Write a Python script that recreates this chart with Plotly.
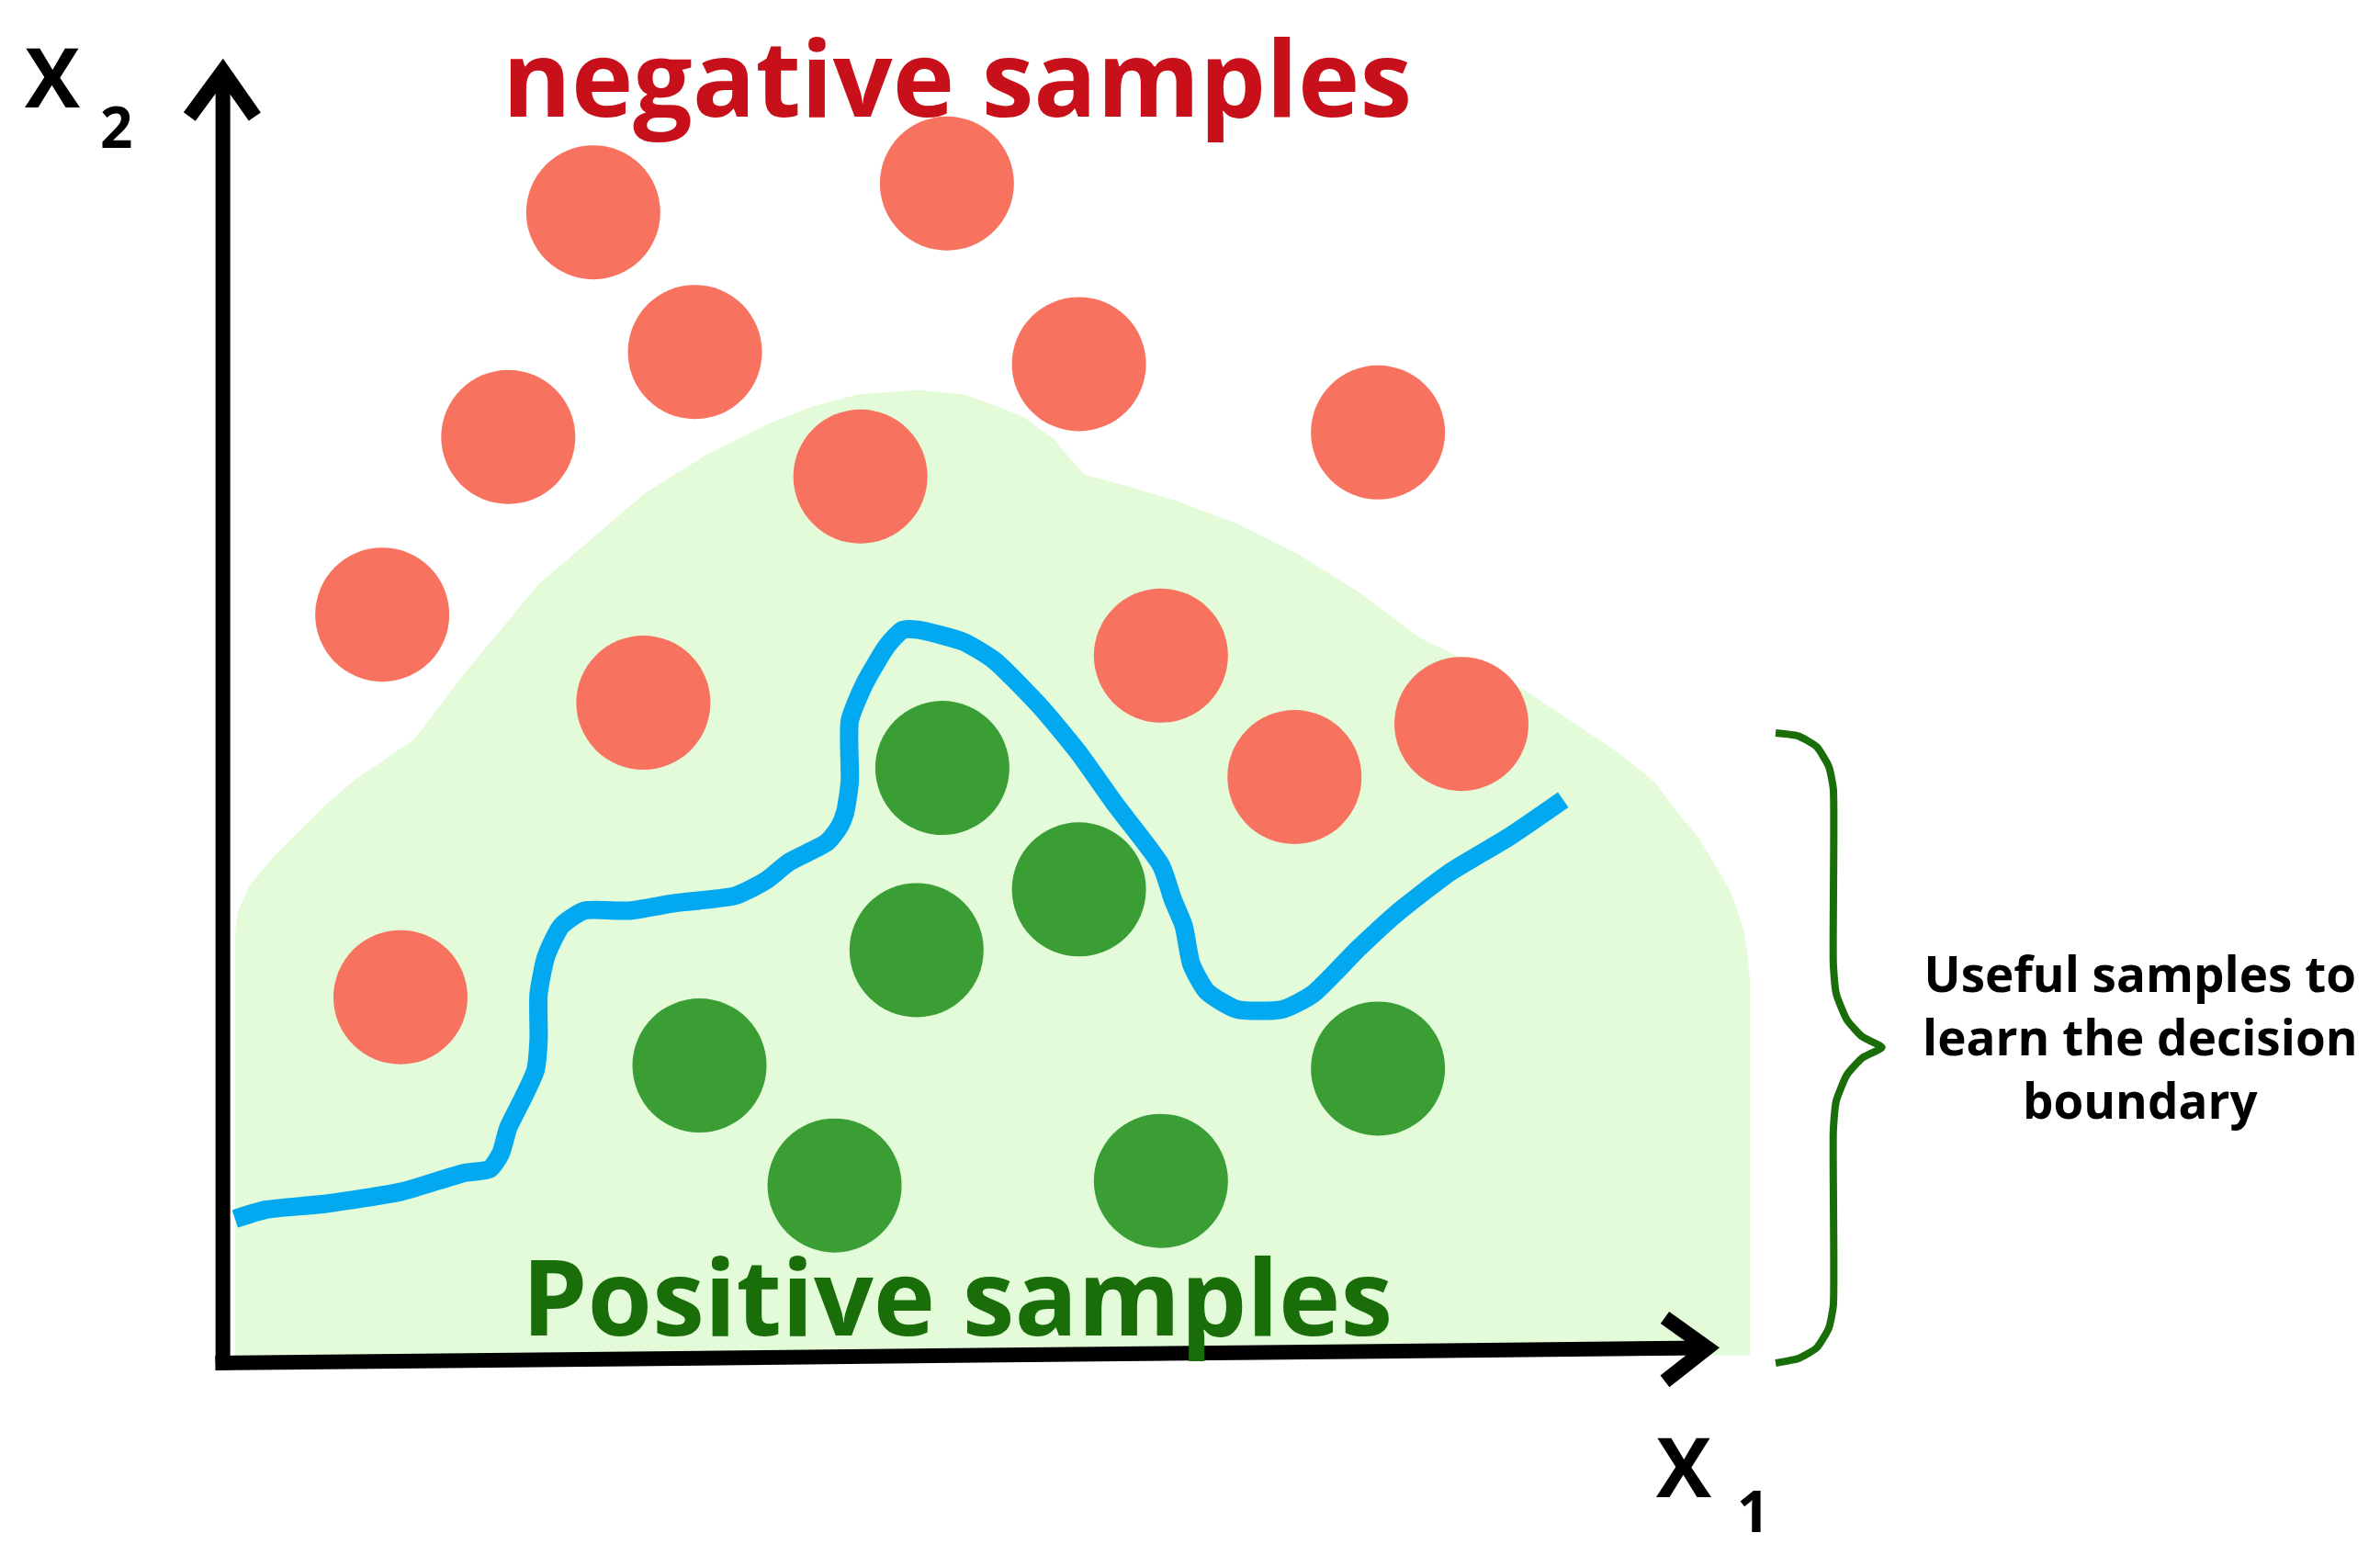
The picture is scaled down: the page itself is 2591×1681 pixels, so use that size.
import plotly.graph_objects as go

neg_x = [386, 619, 453, 706, 330, 903, 562, 247, 760, 419, 958, 848, 259]
neg_y = [135, 116, 227, 235, 283, 280, 309, 400, 427, 458, 472, 507, 652]
pos_x = [616, 706, 599, 456, 903, 545, 760]
pos_y = [501, 581, 621, 697, 699, 776, 773]
bnd_x = [150,170,210,260,300,318,325,330,340,348,350,350,355,365,380,410,440,480,500,515,540,548,552,555,555,565,580,590,600,630,650,680,705,730,760,768,775,780,790,810,840,860,890,915,950,990,1025]
bnd_y = [798,792,788,780,768,765,755,738,718,700,680,650,625,605,595,595,590,585,575,563,550,540,530,510,470,445,420,410,410,418,430,460,490,525,565,588,605,630,648,660,660,650,620,597,570,546,522]
reg_x = [150,152,160,175,190,210,230,268,285,300,325,350,385,420,460,500,530,560,600,630,650,670,690,700,710,740,770,810,850,890,930,965,1000,1030,1060,1085,1100,1115,1125,1134,1140,1144,1146,1148,1148,150]
reg_y = [610,595,578,560,545,525,508,482,460,440,410,380,350,320,295,275,263,255,252,255,262,270,285,297,308,316,325,340,360,385,415,432,450,470,490,510,530,548,565,580,595,608,620,640,888,888]
brace_x = [1165,1180,1192,1200,1203,1203,1205,1212,1222,1235,1222,1212,1205,1203,1203,1200,1192,1180,1165]
brace_y = [478,480,487,500,515,630,650,667,678,685,692,703,720,740,855,870,883,890,893]

fig = go.Figure()
fig.add_trace(go.Scatter(x=reg_x, y=reg_y, fill="toself", fillcolor="#e3fbd9", line=dict(width=0), mode="lines"))
fig.add_trace(go.Scatter(x=neg_x, y=neg_y, mode="markers", marker=dict(size=146, color="#f7735f")))
fig.add_trace(go.Scatter(x=pos_x, y=pos_y, mode="markers", marker=dict(size=146, color="#3a9e35")))
fig.add_trace(go.Scatter(x=bnd_x, y=bnd_y, mode="lines", line=dict(color="#03a9f0", width=20, shape="spline", smoothing=0.6)))
fig.add_trace(go.Scatter(x=[142,142], y=[892,42], mode="lines", line=dict(color="black", width=16)))
fig.add_trace(go.Scatter(x=[120,142,163], y=[72,42,72], mode="lines", line=dict(color="black", width=16)))
fig.add_trace(go.Scatter(x=[137,1120], y=[893,883], mode="lines", line=dict(color="black", width=16)))
fig.add_trace(go.Scatter(x=[1092,1120,1092], y=[863,883,905], mode="lines", line=dict(color="black", width=16)))
fig.add_trace(go.Scatter(x=brace_x, y=brace_y, mode="lines", line=dict(color="#1a6e0a", width=8, shape="spline", smoothing=0.5)))

fnt = "Open Sans"
ann = [
    dict(x=626, y=45, text="<b>negative samples</b>", color="#c8101a", size=114),
    dict(x=626, y=848, text="<b>Positive samples</b>", color="#1a6e0a", size=114),
    dict(x=30, y=45, text="<b>X</b>", color="black", size=90),
    dict(x=72, y=78, text="<b>2</b>", color="black", size=62),
    dict(x=1105, y=960, text="<b>X</b>", color="black", size=90),
    dict(x=1150, y=990, text="<b>1</b>", color="black", size=62),
    dict(x=1405, y=678, text="<b>Useful samples to<br>learn the decision<br>boundary</b>", color="black", size=53),
]
for a in ann:
    fig.add_annotation(x=a["x"], y=a["y"], text=a["text"], showarrow=False,
                       font=dict(family=fnt, size=a["size"], color=a["color"]),
                       xanchor="center", yanchor="middle")

fig.update_layout(width=2591, height=1681, margin=dict(l=0, r=0, t=0, b=0),
                  plot_bgcolor="white", paper_bgcolor="white", showlegend=False,
                  xaxis=dict(range=[0,1568], visible=False),
                  yaxis=dict(range=[1017,0], visible=False))
fig.write_html("out.html")
